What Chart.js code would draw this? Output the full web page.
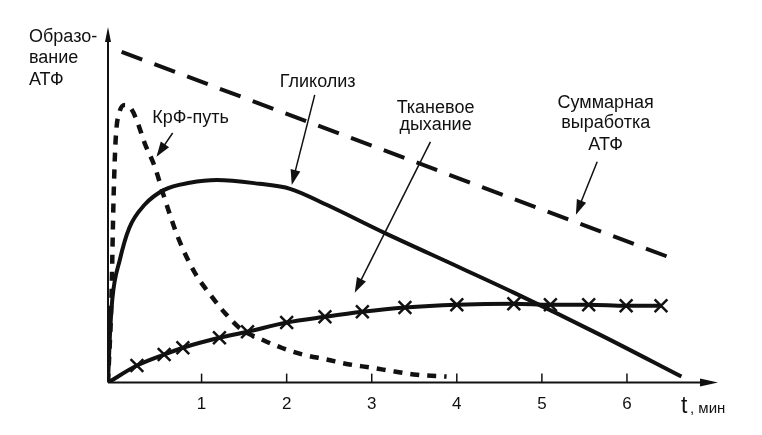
<!DOCTYPE html>
<html lang="ru">
<head>
<meta charset="utf-8">
<title>Образование АТФ</title>
<script src="https://cdn.jsdelivr.net/npm/chart.js@4.4.1/dist/chart.umd.min.js"></script>
<style>
  html, body { margin: 0; padding: 0; background: #fff; }
  #wrap { width: 762px; height: 435px; }
</style>
</head>
<body>
<div id="wrap"><canvas id="atp"></canvas></div>
<script>
// t, мин  ->  образование АТФ (условные единицы)
const totalT = [0.06, 6.48];
const totalY = [93, 35.4];

const glycT = [-0.1, -0.08, -0.05, 0.04, 0.15, 0.33, 0.56, 0.86, 1.18, 1.68, 2.04, 2.47, 3.15, 4.04, 4.67, 5.68, 6.64];
const glycY = [0, 12, 23.3, 34.6, 43.5, 50, 54.2, 56.2, 57, 55.9, 54.5, 50, 42.1, 32.3, 25.3, 13.5, 1.7];

const crfT = [-0.1, -0.06, -0.035, -0.01, 0.035, 0.1, 0.18, 0.25, 0.33, 0.45, 0.56, 0.72, 0.92, 1.12, 1.27, 1.47, 1.68, 1.94, 2.19, 2.47, 2.74, 3.0, 3.27, 3.53, 3.88];
const crfY = [0, 23.3, 51.4, 68.3, 76.1, 78.1, 76.7, 73, 67.4, 60.7, 52.2, 41, 30.9, 24.2, 19.7, 14.9, 12.4, 9.8, 7.9, 6.5, 5.1, 4.2, 3.1, 2.2, 1.7];

const tissueT = [-0.1, 0.24, 0.56, 0.78, 1.21, 1.54, 2.0, 2.45, 2.89, 3.39, 4.0, 4.67, 5.1, 5.55, 5.99, 6.4];
const tissueY = [0, 4.8, 7.9, 9.8, 12.6, 14.3, 16.9, 18.5, 19.9, 21.1, 21.9, 22.2, 21.9, 21.9, 21.6, 21.6];

const tickValues = [1, 2, 3, 4, 5, 6];

// подписи на поле графика (в единицах осей)
const notes = [
  { lines: ['Гликолиз'], x: 2.365, y: [83.1], from: [2.33, 80.9], to: [2.06, 55.6] },
  { lines: ['КрФ-путь'], x: 0.87, y: [73.0], from: [0.66, 70.2], to: [0.47, 63.5] },
  { lines: ['Тканевое', 'дыхание'], x: 3.75, y: [75.8, 71.1], from: [3.69, 67.7], to: [2.8, 25.3] },
  { lines: ['Суммарная', 'выработка', 'АТФ'], x: 5.75, y: [77.2, 71.6, 65.4], from: [5.65, 62.1], to: [5.4, 47.2] },
];

const ink = '#111';
const fontFamily = '"Liberation Sans", Arial, sans-serif';

function zip(xs, ys) {
  return xs.map((x, i) => ({ x: x, y: ys[i] }));
}

function arrowHead(ctx, tx, ty, fx, fy, len, half) {
  const ang = Math.atan2(ty - fy, tx - fx);
  ctx.beginPath();
  ctx.moveTo(tx, ty);
  ctx.lineTo(tx - len * Math.cos(ang) + half * Math.sin(ang), ty - len * Math.sin(ang) - half * Math.cos(ang));
  ctx.lineTo(tx - len * Math.cos(ang) - half * Math.sin(ang), ty - len * Math.sin(ang) + half * Math.cos(ang));
  ctx.closePath();
  ctx.fill();
}

const decor = {
  id: 'decor',
  beforeDraw(chart) {
    const ctx = chart.ctx;
    ctx.save();
    ctx.fillStyle = '#fff';
    ctx.fillRect(0, 0, chart.width, chart.height);
    ctx.restore();
  },
  afterDatasetsDraw(chart) {
    const ctx = chart.ctx;
    const a = chart.chartArea;
    const xs = chart.scales.x;
    const ys = chart.scales.y;
    ctx.save();
    ctx.strokeStyle = ink;
    ctx.fillStyle = ink;

    // оси со стрелками
    ctx.lineWidth = 2;
    ctx.beginPath();
    ctx.moveTo(a.left, a.bottom);
    ctx.lineTo(a.right - 10, a.bottom);
    ctx.moveTo(a.left, a.bottom);
    ctx.lineTo(a.left, a.top + 8);
    ctx.stroke();
    arrowHead(ctx, a.right, a.bottom, a.left, a.bottom, 18, 4);
    arrowHead(ctx, a.left, a.top, a.left, a.bottom, 15, 3);

    // засечки внутрь
    ctx.lineWidth = 1.5;
    tickValues.forEach((v) => {
      const px = xs.getPixelForValue(v);
      ctx.beginPath();
      ctx.moveTo(px, a.bottom);
      ctx.lineTo(px, a.bottom - 9);
      ctx.stroke();
    });

    // подписи и стрелки-указатели
    ctx.font = '18px ' + fontFamily;
    ctx.textAlign = 'center';
    ctx.textBaseline = 'alphabetic';
    notes.forEach((n) => {
      const cx = xs.getPixelForValue(n.x);
      n.lines.forEach((t, i) => ctx.fillText(t, cx, ys.getPixelForValue(n.y[i])));
      const fx = xs.getPixelForValue(n.from[0]);
      const fy = ys.getPixelForValue(n.from[1]);
      const tx = xs.getPixelForValue(n.to[0]);
      const ty = ys.getPixelForValue(n.to[1]);
      ctx.lineWidth = 1.5;
      ctx.beginPath();
      ctx.moveTo(fx, fy);
      ctx.lineTo(tx - (tx - fx) * 0.08, ty - (ty - fy) * 0.08);
      ctx.stroke();
      arrowHead(ctx, tx, ty, fx, fy, 15, 5);
    });

    // название оси Y
    ctx.textAlign = 'left';
    ctx.fillText('Образо-', a.left - 79, a.top + 15);
    ctx.fillText('вание', a.left - 79, a.top + 36);
    ctx.fillText('АТФ', a.left - 79, a.top + 58);

    // название оси X
    ctx.font = '23px ' + fontFamily;
    ctx.fillText('t', a.right - 37, a.bottom + 30);
    ctx.font = '15px ' + fontFamily;
    ctx.fillText(', мин', a.right - 28, a.bottom + 30);
    ctx.restore();
  },
};

new Chart(document.getElementById('atp'), {
  type: 'line',
  data: {
    datasets: [
      {
        label: 'Суммарная выработка АТФ',
        data: zip(totalT, totalY),
        borderColor: ink,
        borderWidth: 4,
        borderDash: [22, 13],
        pointRadius: 0,
        tension: 0,
      },
      {
        label: 'Гликолиз',
        data: zip(glycT, glycY),
        borderColor: ink,
        borderWidth: 4,
        pointRadius: 0,
        cubicInterpolationMode: 'monotone',
      },
      {
        label: 'КрФ-путь',
        data: zip(crfT, crfY),
        borderColor: ink,
        borderWidth: 4.5,
        borderDash: [9, 8],
        pointRadius: 0,
        cubicInterpolationMode: 'monotone',
      },
      {
        label: 'Тканевое дыхание',
        data: zip(tissueT, tissueY),
        borderColor: ink,
        borderWidth: 4,
        pointStyle: 'crossRot',
        pointRadius: tissueT.map((t, i) => (i === 0 ? 0 : 9)),
        pointBorderWidth: 2.5,
        pointBorderColor: ink,
        cubicInterpolationMode: 'monotone',
      },
    ],
  },
  options: {
    responsive: true,
    maintainAspectRatio: false,
    animation: false,
    layout: { padding: { left: 108, right: 44, top: 27, bottom: 8 } },
    plugins: { legend: { display: false }, tooltip: { enabled: false } },
    scales: {
      x: {
        type: 'linear',
        min: -0.1,
        max: 7.07,
        afterBuildTicks: (scale) => {
          scale.ticks = tickValues.map((v) => ({ value: v }));
        },
        grid: { display: false, drawTicks: false },
        border: { display: false },
        ticks: { color: ink, padding: 12, font: { size: 17, family: fontFamily } },
      },
      y: {
        display: false,
        min: 0,
        max: 100,
      },
    },
  },
  plugins: [decor],
});
</script>
</body>
</html>
